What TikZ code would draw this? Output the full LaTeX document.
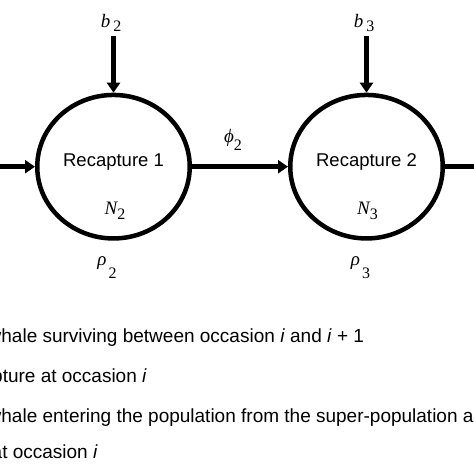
\documentclass[tikz,border=0pt]{standalone}
\usepackage{fontspec}
\setmainfont{Liberation Sans}
\newfontfamily\symfont{Liberation Serif}
\usetikzlibrary{arrows.meta,positioning,shapes.geometric}
% symbol with a lowered index: #1 symbol, #2 gap, #3 index, #4 drop
\newcommand{\lowidx}[4]{{\itshape #1}\hspace{#2}\raisebox{-#4}{\fontsize{16}{16}\selectfont #3}}

\begin{document}
\begin{tikzpicture}[x=1pt,y=-1pt,>={Triangle[length=10pt,width=13pt]},
  stage/.style={ellipse,draw,line width=4.5pt,minimum width=152.5pt,minimum height=143.5pt,inner sep=0pt},
  flow/.style={->,line width=4.5pt},
  title/.style={anchor=base,inner sep=0pt,font=\fontsize{18.5}{22}\selectfont},
  sym/.style={inner sep=0pt,font=\symfont\fontsize{19}{22}\selectfont},
  note/.style={anchor=base west,inner sep=0pt,font=\fontsize{19}{23}\selectfont}]
    \useasboundingbox (0,0) rectangle (474,474);
    \clip (0,0) rectangle (474,474);
    % the two recapture occasions
    \node [stage] (rc1) at (113.5,166.7) {};
    \node [stage, right=96pt of rc1] (rc2) {};
    \node [title] (t1) at (rc1.center) {Recapture 1};
    \node [title] (t2) at (rc2.center) {Recapture 2};
    \node [sym, below=35pt of rc1.center, xshift=1.5pt] (N2) {\lowidx{N}{0pt}{2}{5pt}};
    \node [sym, below=35pt of rc2.center, xshift=1pt] (N3) {\lowidx{N}{0pt}{3}{5pt}};
    \node [sym, below=16pt of rc1.south, xshift=-6.5pt] (p2) {\lowidx{ρ}{2pt}{2}{13pt}};
    \node [sym, below=16pt of rc2.south, xshift=-6pt] (p3) {\lowidx{ρ}{2pt}{3}{13pt}};
    % entries from the super-population
    \coordinate [above=57pt of rc1.north] (in1);
    \coordinate [above=57pt of rc2.north] (in2);
    \node [sym, above=4pt of in1, xshift=-2.5pt] (b2) {\lowidx{b}{3pt}{2}{4pt}};
    \node [sym, above=4pt of in2, xshift=-2.5pt] (b3) {\lowidx{b}{3pt}{3}{4pt}};
    \coordinate (src) at (-20,166.7);
    \coordinate (sink) at (500,166.7);
    \draw[flow] (in1) -- (rc1);
    \draw[flow] (in2) -- (rc2);
    \draw[flow] (src) -- (rc1);
    \draw[flow] (rc1) -- node[sym, above=14pt, xshift=-7pt] (f2) {\lowidx{ϕ}{0pt}{2}{8pt}} (rc2);
    \draw[flow] (rc2) -- (sink);
    % legend lines
    \node [note] (l1) at (-12.5,342) {whale surviving between occasion \textit{i} and \textit{i} + 1};
    \node [note] (l2) at (-8,382) {pture at occasion \textit{i}};
    \node [note] (l3) at (-12.5,422) {whale entering the population from the super-population a};
    \node [note] (l4) at (-8.5,458.5) {at occasion \textit{i}};
\end{tikzpicture}
\end{document}
